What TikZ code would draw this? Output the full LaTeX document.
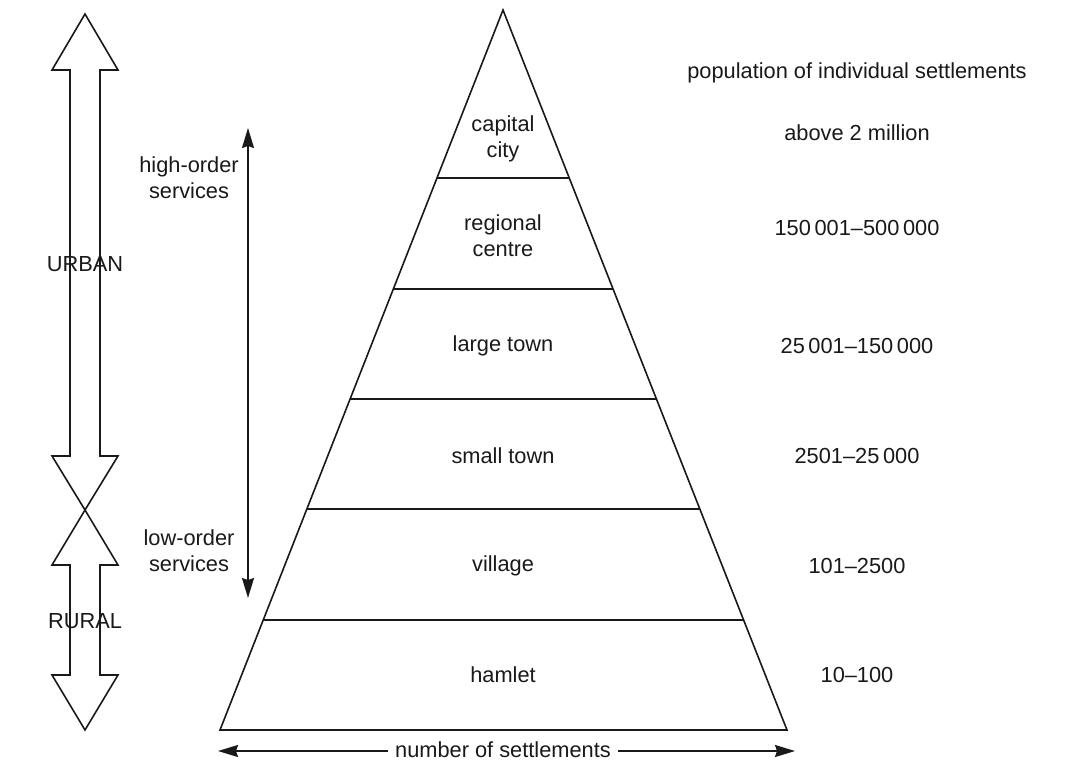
\documentclass[tikz,border=0pt]{standalone}
\usepackage{fontspec}
\setmainfont{Liberation Sans}
\usetikzlibrary{arrows.meta}
\begin{document}
\begin{tikzpicture}[x=1pt,y=-1pt,
  ln/.style={line width=1.6pt,black!90},
  lbl/.style={font=\fontsize{21.8}{26}\selectfont,text=black!90,align=center,inner sep=0pt},
  tip/.tip={Stealth[length=20pt,width=12pt,inset=2pt]},
  arr/.style={ln,-tip}]
\useasboundingbox (0,0) rectangle (1071,777);
% pyramid
\draw[ln,line join=miter] (503,10) -- (787,730) -- (220,730) -- cycle;
\foreach \y in {178,289,399,509,620}{
  \pgfmathsetmacro{\d}{(\y-10)/720*283.5}
  \draw[ln] ({503-\d},\y) -- ({503.5+\d},\y);
}
% big double arrows
\draw[ln,line join=miter] (70,70) -- (52,70) -- (85,14) -- (118,70) -- (100,70) -- (100,456) -- (118,456) -- (85,510) -- (52,456) -- (70,456) -- cycle;
\draw[ln,line join=miter] (70,565) -- (52,565) -- (85,510) -- (118,565) -- (100,565) -- (100,675) -- (118,675) -- (85,730) -- (52,675) -- (70,675) -- cycle;
% labels in pyramid
\node[lbl] (cap) at (503,139) {capital\\city};
\node[lbl] (reg) at (503,236) {regional\\centre};
\node[lbl] (lt) at (503,346) {large town};
\node[lbl] (st) at (503,456) {small town};
\node[lbl] (vil) at (503,566) {village};
\node[lbl] (ham) at (503,675) {hamlet};
% right
\node[lbl] (pop) at (857,73) {population of individual settlements};
\node[lbl] (p1) at (857,133) {above 2 million};
\node[lbl] (p2) at (857,228) {150\,001–500\,000};
\node[lbl] (p3) at (857,346) {25\,001–150\,000};
\node[lbl] (p4) at (857,456) {2501–25\,000};
\node[lbl] (p5) at (857,566) {101–2500};
\node[lbl] (p6) at (857,675) {10–100};
% left
\node[lbl] (ho) at (189,178) {high-order\\services};
\node[lbl] (lo) at (189,551) {low-order\\services};
\node[lbl] (urb) at (85,264) {URBAN};
\node[lbl] (rur) at (85,621) {RURAL};
% vertical arrow
\coordinate (vt) at (248,128);
\coordinate (vb) at (248,598);
\draw[ln,tip-tip] (vt) -- (vb);
% bottom arrow
\node[lbl,inner xsep=7pt] (nos) at (503,750) {number of settlements};
\coordinate (bl) at (218,751);
\coordinate (br) at (795,751);
\draw[arr] (nos.west|-bl) -- (bl);
\draw[arr] (nos.east|-br) -- (br);
\end{tikzpicture}
\end{document}
